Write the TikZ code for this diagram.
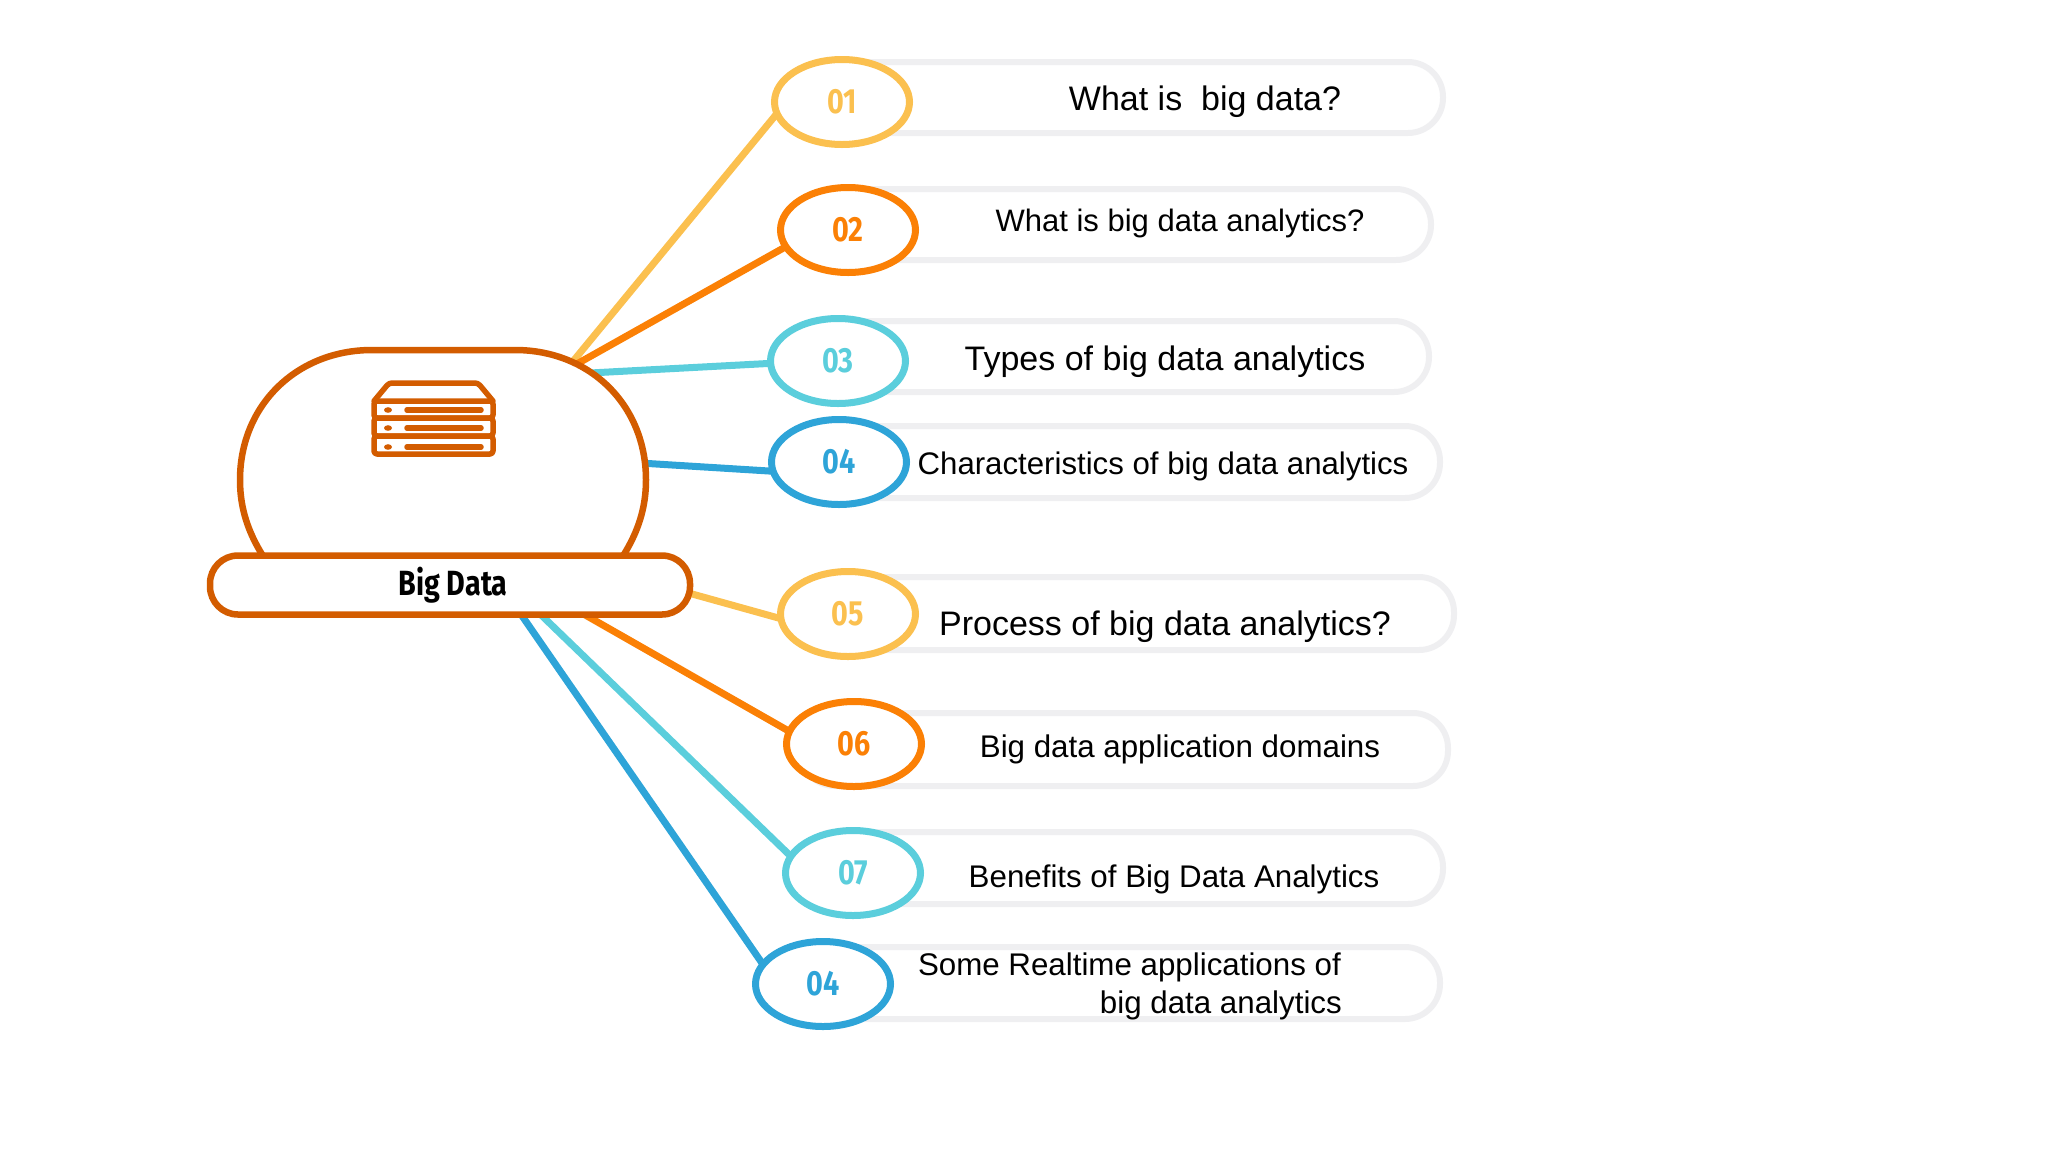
\documentclass[tikz,border=0pt]{standalone}
\usepackage{fontspec}
\setmainfont{Liberation Sans}
\newfontfamily\condfont[FakeStretch=0.82]{Fira Sans}
\usetikzlibrary{shapes.geometric}
\definecolor{cyel}{HTML}{FBC04F}
\definecolor{cora}{HTML}{FB8005}
\definecolor{ccya}{HTML}{5BCEDC}
\definecolor{cblu}{HTML}{2EA4D8}
\definecolor{cdark}{HTML}{D35C00}
\definecolor{cpill}{HTML}{EFEFF1}
\tikzset{
  x=1pt,y=-1pt,
  pillbox/.style={draw=cpill,line width=6pt,fill=white,rounded corners=35pt},
  num/.style={ellipse,draw=#1,text=#1,line width=7pt,fill=white,minimum width=135pt,minimum height=85pt,inner sep=0pt,outer sep=0pt,font=\condfont\bfseries\fontsize{35}{35}\selectfont},
  link/.style={draw=#1,line width=7pt},
  lab/.style={anchor=base,inner sep=0pt,text=black,font=\fontsize{#1}{38}\selectfont},
  hubline/.style={draw=cdark,line width=6.5pt,line cap=round,line join=round},
  iconline/.style={draw=cdark,line width=5.5pt,line cap=round,line join=round,rounded corners=3pt},
}
\begin{document}
\begin{tikzpicture}
\useasboundingbox (0,0) rectangle (2048,1152);
% pills
\draw[pillbox] (800,62) rectangle (1443,133);
\draw[pillbox] (800,189) rectangle (1431,260);
\draw[pillbox] (800,321) rectangle (1429,392);
\draw[pillbox] (800,426) rectangle (1440,498);
\draw[pillbox] (800,577) rectangle (1454,650);
\draw[pillbox] (800,713) rectangle (1448,786);
\draw[pillbox] (800,832) rectangle (1443,904);
\draw[pillbox] (800,947) rectangle (1440,1019);
% numbered ellipses
\node[num=cyel] (e1) at (842,102) {01};
\node[num=cora] (e2) at (848,230) {02};
\node[num=ccya] (e3) at (838,361) {03};
\node[num=cblu] (e4) at (839,462) {04};
\node[num=cyel] (e5) at (848,614) {05};
\node[num=cora] (e6) at (854,744) {06};
\node[num=ccya] (e7) at (853,873) {07};
\node[num=cblu] (e8) at (823,984) {04};
% hub anchor points
\coordinate (a1) at (570,365);
\coordinate (a2) at (575,365);
\coordinate (a3) at (590,373);
\coordinate (a4) at (640,463);
\coordinate (a5) at (685,592);
\coordinate (a6) at (580,612);
\coordinate (a7) at (536,610);
\coordinate (a8) at (518,610);
% connectors
\draw[link=cyel] (a1) -- (e1.190);
\draw[link=cora] (a2) -- (e2.195);
\draw[link=ccya] (a3) -- (e3.182);
\draw[link=cblu] (a4) -- (e4.188);
\draw[link=cyel] (a5) -- (e5.184);
\draw[link=cora] (a6) -- (e6.169);
\draw[link=ccya] (a7) -- (e7.165);
\draw[link=cblu] (a8) -- (e8.162);
% dome
\draw[hubline,fill=white] (263,556) .. controls (248,532) and (240,508) .. (240,480)
  .. controls (240,405) and (297,350) .. (372,350) -- (515,350)
  .. controls (590,350) and (646,405) .. (646,480)
  .. controls (646,508) and (638,532) .. (623,556);
% bar
\node[draw=cdark,line width=6.5pt,fill=white,rounded corners=28pt,minimum width=480pt,minimum height=59pt,inner sep=0pt,outer sep=0pt,font=\condfont\bfseries\fontsize{35}{35}\selectfont] (bar) at (450,585) {\hspace{6pt}\raisebox{-2pt}{Big Data}};
% server icon
\draw[iconline] (374,401) -- (389,383) -- (478,383) -- (493,401);
\draw[iconline] (374,401) rectangle (493,418);
\draw[iconline] (374,418) rectangle (493,436);
\draw[iconline] (374,436) rectangle (493,454);
\draw[iconline] (407,410) -- (481,410);
\draw[iconline] (407,428) -- (481,428);
\draw[iconline] (407,447) -- (481,447);
\fill[cdark] (388,410) ellipse (4pt and 2.8pt);
\fill[cdark] (388,428) ellipse (4pt and 2.8pt);
\fill[cdark] (388,447) ellipse (4pt and 2.8pt);
% labels
\node[lab=34] (t1) at (1205,110) {What is \ big data?};
\node[lab=31] (t2) at (1180,231) {What is big data analytics?};
\node[lab=34] (t3) at (1165,370) {Types of big data analytics};
\node[lab=31.2] (t4) at (1163,474) {Characteristics of big data analytics};
\node[lab=34] (t5) at (1165,635) {Process of big data analytics?};
\node[lab=31.3] (t6) at (1180,757) {Big data application domains};
\node[lab=31.3] (t7) at (1174,887) {Benefits of Big Data Analytics};
\node[lab=31.3,anchor=base east] (t8) at (1341,975) {Some Realtime applications of};
\node[lab=31.3,anchor=base east] (t9) at (1342,1013) {big data analytics};
\end{tikzpicture}
\end{document}
